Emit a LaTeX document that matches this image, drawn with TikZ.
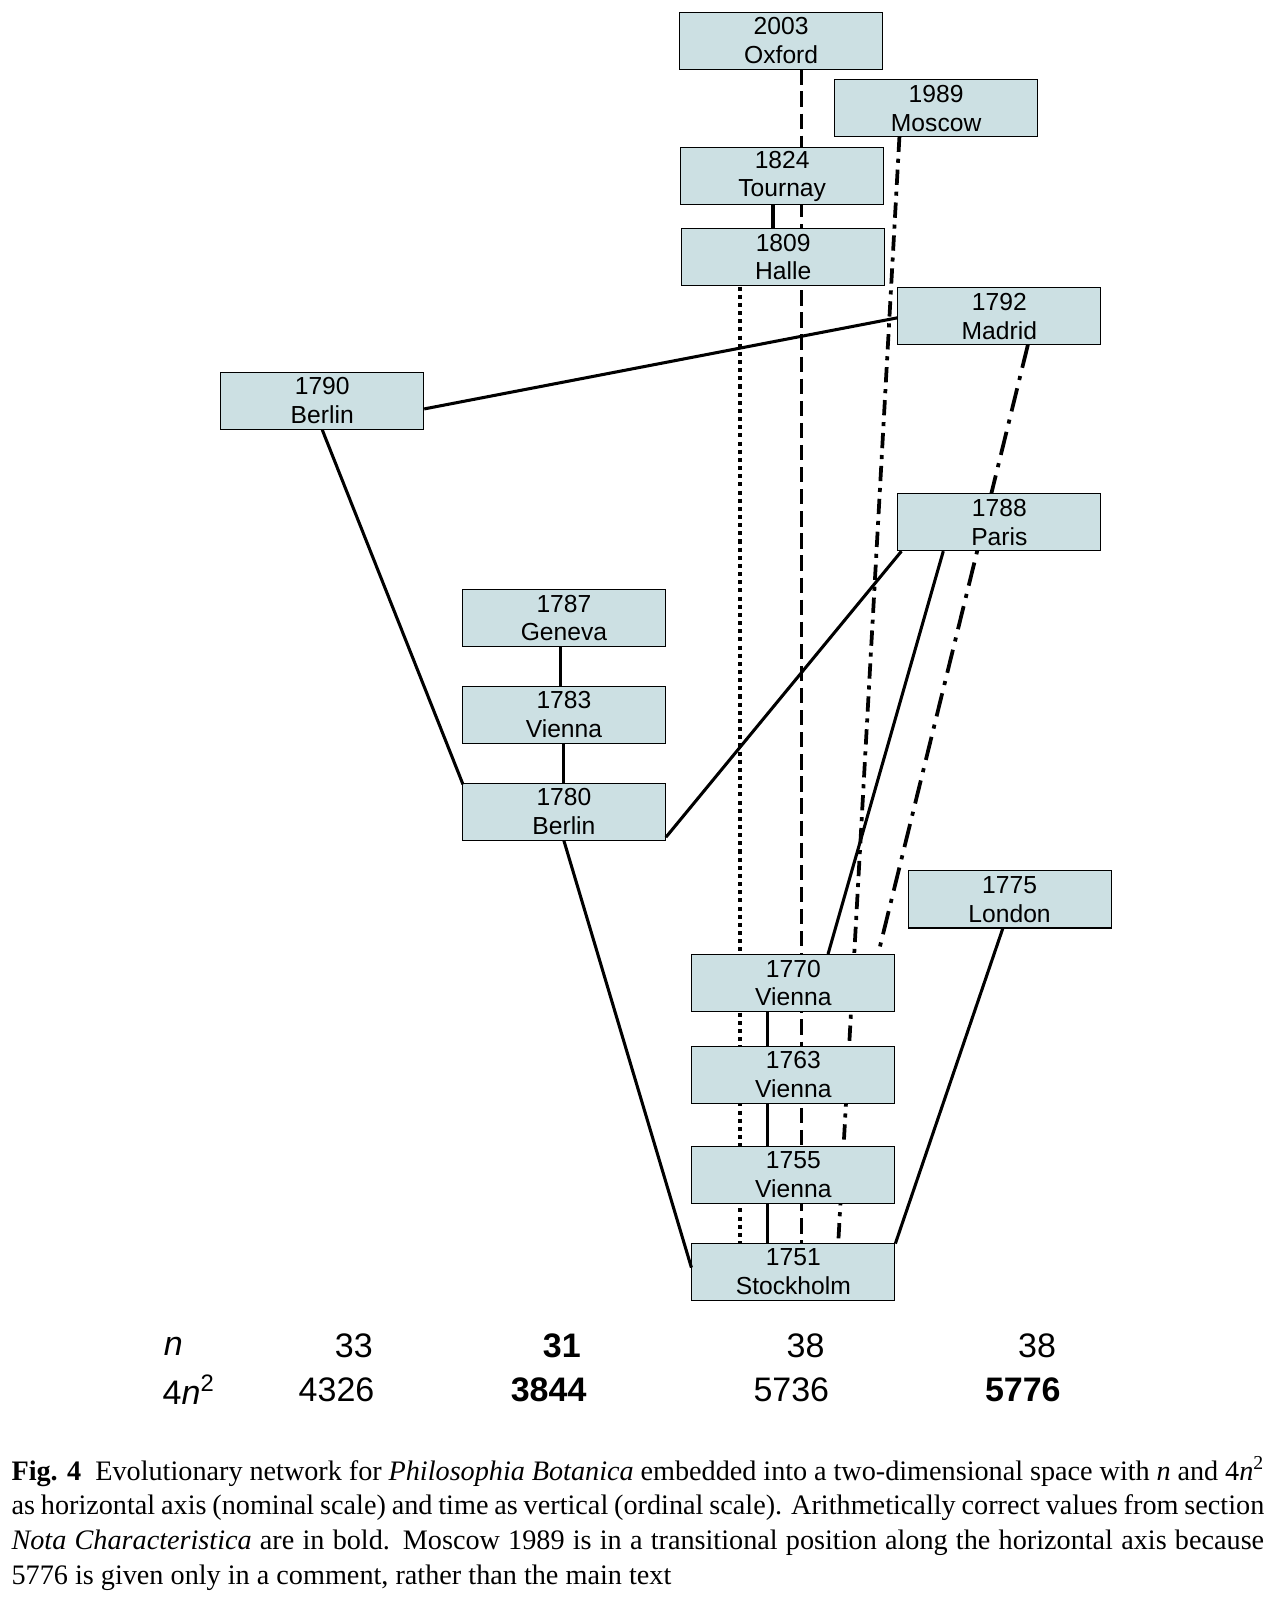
\documentclass[tikz,border=0pt]{standalone}
\usepackage{fontspec}
\setmainfont{Liberation Serif}
\newfontfamily\sans{Liberation Sans}
\begin{document}
\begin{tikzpicture}[x=0.6pt,y=-0.6pt,
 box/.style={draw=black,line width=0.6pt,fill=boxc,minimum width=119.4pt,minimum height=33.6pt,inner sep=0pt,align=center,font=\sans\fontsize{14.5}{17}\selectfont},
 ln/.style={line width=1.8pt},
 dt/.style={line width=2.2pt,dash pattern=on 2.4pt off 2.4pt},
 ds/.style={line width=2.2pt,dash pattern=on 9pt off 4pt},
 dd/.style={line width=2.2pt,dash pattern=on 9pt off 4pt on 2.4pt off 4pt},
 dl/.style={line width=2.2pt,dash pattern=on 14pt off 5pt on 2.4pt off 5pt},
 num/.style={font=\sans\fontsize{20}{24}\selectfont}]
\definecolor{boxc}{HTML}{CCE0E3}
\useasboundingbox (0,0) rectangle (1245,1569);
\coordinate (oxb) at (786,68);
\coordinate (mob) at (882,134);
\coordinate (hab) at (726,281);
\coordinate (stdt) at (726,1219);
\coordinate (stds) at (786,1219);
\coordinate (stdd) at (822,1219);
\coordinate (mab) at (1008,338);
\coordinate (v70t) at (861,936);
% lines behind boxes
\draw[dt] (hab) -- (stdt);
\draw[ds] (oxb) -- (stds);
\draw[dd] (mob) -- (stdd);
\draw[dl] (mab) -- (v70t);
\node[box] (ox) at (766,40) {2003\\Oxford};
\node[box] (mo) at (918,106) {1989\\Moscow};
\node[box] (to) at (767,173) {1824\\Tournay};
\node[box] (ha) at (768,252) {1809\\Halle};
\node[box] (ma) at (980,310) {1792\\Madrid};
\node[box] (b90) at (316,393) {1790\\Berlin};
\node[box] (pa) at (980,512) {1788\\Paris};
\node[box] (ge) at (553,606) {1787\\Geneva};
\node[box] (v83) at (553,701) {1783\\Vienna};
\node[box] (b80) at (553,796) {1780\\Berlin};
\node[box] (lo) at (990,882) {1775\\London};
\node[box] (v70) at (778,964) {1770\\Vienna};
\node[box] (v63) at (778,1054) {1763\\Vienna};
\node[box] (v55) at (778,1152) {1755\\Vienna};
\node[box] (st) at (778,1247) {1751\\Stockholm};
% redraw visible segments between boxes (lines pass behind boxes)
\begin{scope}[on background layer/.style={}]
\end{scope}
\draw[ln] ([yshift=-4.8pt]b90.east) -- ([yshift=-1pt]ma.west);
\draw[ln] (b90.south) -- ([xshift=0.6pt,yshift=-1pt]b80.north west);
\draw[ln] ([xshift=-1.8pt]ge.south) -- ([xshift=-1.8pt]v83.north);
\draw[ln] (v83.south) -- (b80.north);
\draw[ln] ([yshift=-15pt]b80.east) -- ([xshift=2.4pt]pa.south west);
\draw[ln] (b80.south) -- ([yshift=2.4pt]st.west);
\draw[ln] ([xshift=-33pt]pa.south) -- ([xshift=20.4pt]v70.north);
\draw[ln] ([xshift=-5.4pt]to.south) -- ([xshift=-6pt]ha.north);
\draw[ln] ([xshift=-15pt]v70.south) -- ([xshift=-15pt]v63.north);
\draw[ln] ([xshift=-15pt]v63.south) -- ([xshift=-15pt]v55.north);
\draw[ln] ([xshift=-15pt]v55.south) -- ([xshift=-15pt]st.north);
\draw[ln] ([xshift=-4pt]lo.south) -- ([yshift=-0.6pt]st.north east);
% table
\node[num,font=\sans\itshape\fontsize{20}{24}\selectfont] (n) at (170,1320) {n};
\node[num] (n1) at (347,1320) {33};
\node[num,font=\sans\bfseries\fontsize{20}{24}\selectfont] (n2) at (551,1320) {31};
\node[num] (n3) at (790,1320) {38};
\node[num] (n4) at (1017,1320) {38};
\node[num] (q) at (185,1363) {4\textit{n}\textsuperscript{2}};
\node[num] (q1) at (330,1363) {4326};
\node[num,font=\sans\bfseries\fontsize{20}{24}\selectfont] (q2) at (538,1363) {3844};
\node[num] (q3) at (776,1363) {5736};
\node[num,font=\sans\bfseries\fontsize{20}{24}\selectfont] (q4) at (1003,1363) {5776};
\node[anchor=north west,inner sep=0pt,text width=737pt,align=justify,font=\fontsize{16.6}{20.4}\selectfont] (cap) at (11,1428)
{\textbf{Fig. 4}\enspace Evolutionary network for \textit{Philosophia Botanica} embedded into a two-dimensional space with \textit{n} and 4\textit{n}\textsuperscript{2} as horizontal axis (nominal scale) and time as vertical (ordinal scale). Arithmetically correct values from section \textit{Nota Characteristica} are in bold. Moscow 1989 is in a transitional position along the horizontal axis because 5776 is given only in a comment, rather than the main text};
\end{tikzpicture}
\end{document}
